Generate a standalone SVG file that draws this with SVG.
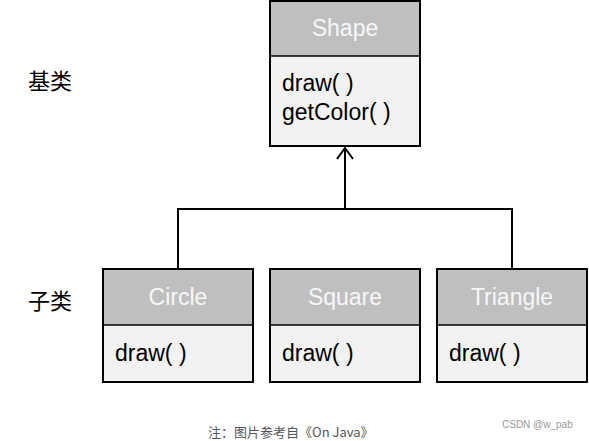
<svg xmlns="http://www.w3.org/2000/svg" width="589" height="441" viewBox="0 0 589 441">
<defs>
<style>
.hd{fill:#bfbfbf;stroke:none}
.bd{fill:#f2f2f2;stroke:none}
.fr{fill:none;stroke:#000;stroke-width:2}
.sep{stroke:#000;stroke-width:1.5}
.tt{font-family:"Liberation Sans",Arial,sans-serif;font-size:23px;fill:#f7f7f7;text-anchor:middle}
.mt{font-family:"Liberation Sans",Arial,sans-serif;font-size:23px;fill:#000}
.lb{font-family:"Noto Sans CJK SC",sans-serif;font-size:22px;fill:#000}
.cn{fill:none;stroke:#000;stroke-width:2}
</style>
</defs>
<rect width="589" height="441" fill="#fff"/>
<g id="connectors">
<path class="cn" d="M178,269 V209 H512 V269"/>
<path class="cn" d="M345,209 V148"/>
<path class="cn" d="M337,159 L345,148 L353,159"/>
</g>
<g id="shape">
<rect class="hd" x="270" y="1" width="150" height="55"/>
<rect class="bd" x="270" y="56" width="150" height="90"/>
<rect class="fr" x="270" y="1" width="150" height="145"/>
<line class="sep" x1="270" y1="56" x2="420" y2="56"/>
<text class="tt" x="345" y="36">Shape</text>
<text class="mt" x="282" y="91">draw( )</text>
<text class="mt" x="282" y="120">getColor( )</text>
</g>
<g id="circle">
<rect class="hd" x="103" y="269" width="150" height="56"/>
<rect class="bd" x="103" y="325" width="150" height="57"/>
<rect class="fr" x="103" y="269" width="150" height="113"/>
<line class="sep" x1="103" y1="325" x2="253" y2="325"/>
<text class="tt" x="178" y="305">Circle</text>
<text class="mt" x="115" y="361">draw( )</text>
</g>
<g id="square">
<rect class="hd" x="270" y="269" width="150" height="56"/>
<rect class="bd" x="270" y="325" width="150" height="57"/>
<rect class="fr" x="270" y="269" width="150" height="113"/>
<line class="sep" x1="270" y1="325" x2="420" y2="325"/>
<text class="tt" x="345" y="305">Square</text>
<text class="mt" x="282" y="361">draw( )</text>
</g>
<g id="triangle">
<rect class="hd" x="437" y="269" width="150" height="56"/>
<rect class="bd" x="437" y="325" width="150" height="57"/>
<rect class="fr" x="437" y="269" width="150" height="113"/>
<line class="sep" x1="437" y1="325" x2="587" y2="325"/>
<text class="tt" x="512" y="305">Triangle</text>
<text class="mt" x="449" y="361">draw( )</text>
</g>
<g id="labels">
<text class="lb" x="28" y="89">基类</text>
<text class="lb" x="28" y="309">子类</text>
<text x="208" y="437" style="font-family:'Noto Sans CJK SC',sans-serif;font-size:13px;fill:#555">注：图片参考自《On Java》</text>
<text x="502" y="428" style="font-family:'Liberation Sans',Arial,sans-serif;font-size:10px;fill:#999">CSDN @w_pab</text>
</g>
</svg>
